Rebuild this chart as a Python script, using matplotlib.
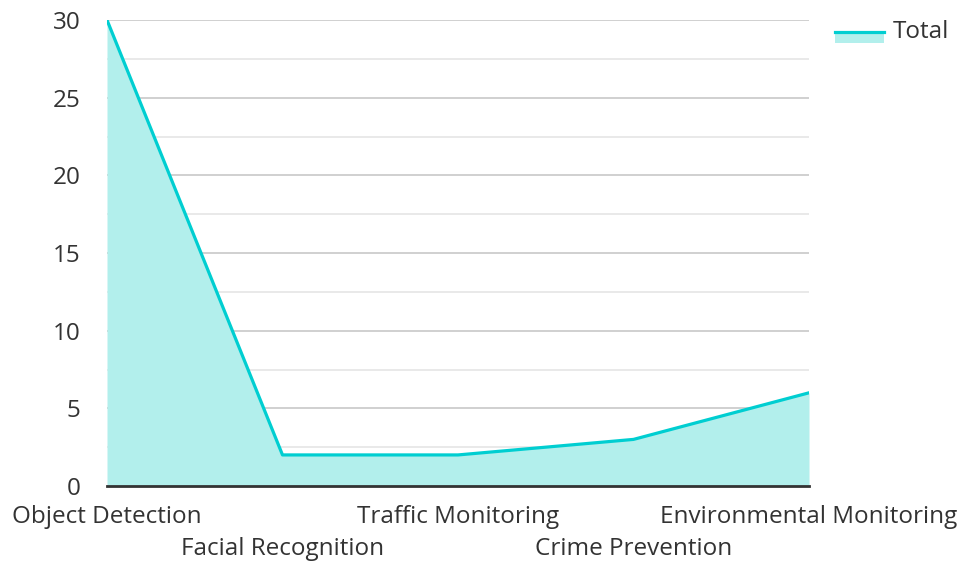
import matplotlib.pyplot as plt
from matplotlib.lines import Line2D
from matplotlib.patches import Rectangle

plt.rcParams['font.family'] = ['Open Sans', 'DejaVu Sans']

categories = ["Object Detection", "Facial Recognition", "Traffic Monitoring",
              "Crime Prevention", "Environmental Monitoring"]
totals = [30, 2, 2, 3, 6]
series_name = "Total"

line_color = "#00CED1"
fill_color = "#B2EFEC"
text_color = "#333333"
fs = 17.5

fig = plt.figure(figsize=(9.63, 5.61), dpi=100)
ax = fig.add_axes([107 / 963, 75 / 561, 702 / 963, 466 / 561])

x = list(range(len(categories)))
ax.fill_between(x, totals, 0, color=fill_color, linewidth=0, zorder=1)
ax.plot(x, totals, color=line_color, linewidth=2.3, zorder=3)

ax.set_xlim(0, len(categories) - 1)
ax.set_ylim(0, 30)
ax.set_yticks(range(0, 31, 5))
ax.set_yticks([i + 2.5 for i in range(0, 30, 5)], minor=True)
ax.grid(axis='y', which='major', color="#C4C4C4", linewidth=1.1, zorder=0)
ax.grid(axis='y', which='minor', color="#E3E3E3", linewidth=1.1, zorder=0)
ax.set_axisbelow(True)

for side in ['left', 'right', 'top']:
    ax.spines[side].set_visible(False)
ax.spines['bottom'].set_color(text_color)
ax.spines['bottom'].set_linewidth(2)
ax.spines['bottom'].set_zorder(4)

ax.tick_params(axis='y', which='both', length=0, pad=19, labelsize=fs, labelcolor=text_color)
ax.tick_params(axis='x', length=0, pad=14, labelsize=fs, labelcolor=text_color)
ax.set_xticks(x)
ax.set_xticklabels(categories)
for i, lbl in enumerate(ax.get_xticklabels()):
    if i % 2 == 1:
        lbl.set_y(-0.068)
    else:
        lbl.set_y(0.0)

# legend drawn by hand: line over a filled swatch
fig.add_artist(Rectangle((835 / 963, 1 - 43 / 561), 49 / 963, 11 / 561,
                         transform=fig.transFigure, color=fill_color, linewidth=0))
fig.add_artist(Line2D([835 / 963, 884 / 963], [1 - 32 / 561, 1 - 32 / 561],
                      transform=fig.transFigure, color=line_color, linewidth=2.3))
fig.text(893 / 963, 1 - 32 / 561, series_name, fontsize=fs, color=text_color,
         va='center', ha='left')

fig.savefig("out.png", dpi=100)
